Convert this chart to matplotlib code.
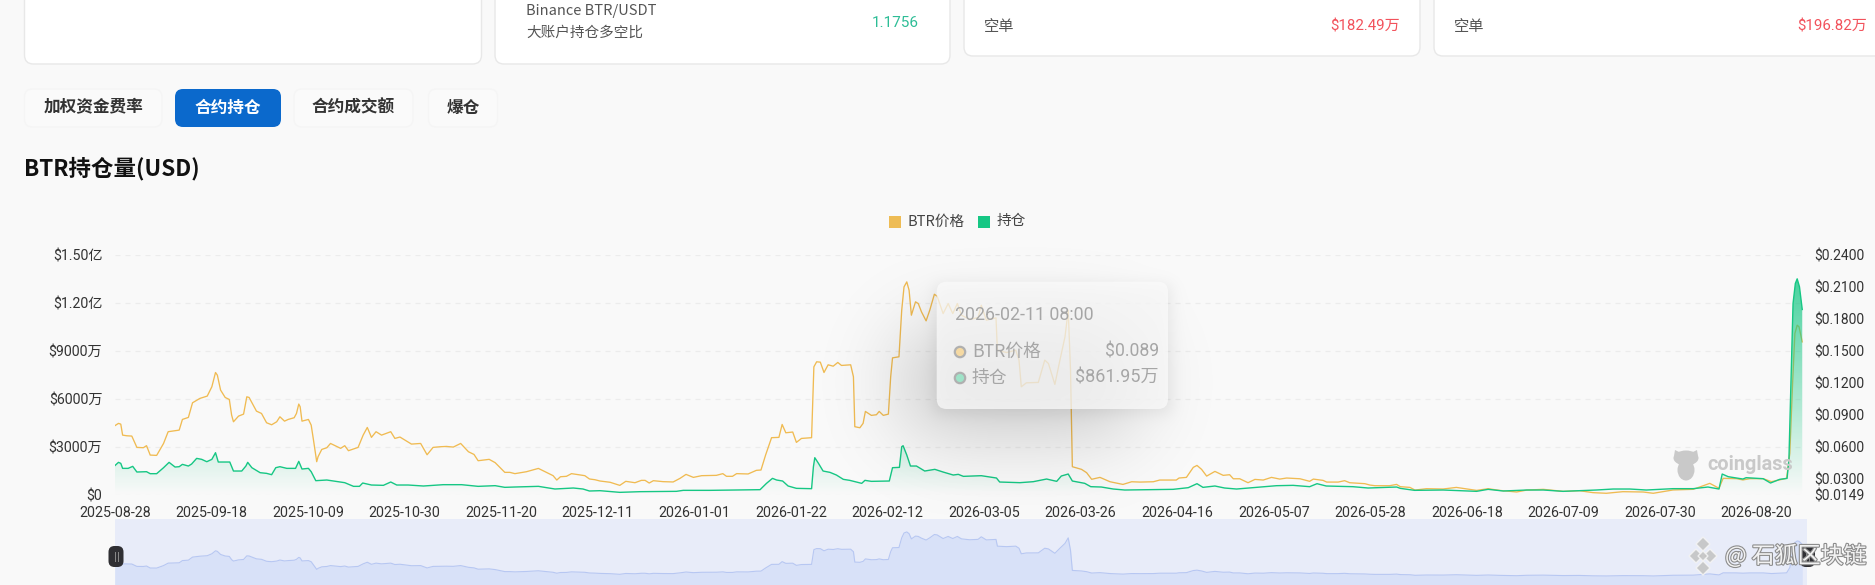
import math
import numpy as np
import matplotlib
matplotlib.use("Agg")
import matplotlib.pyplot as plt
import matplotlib.patheffects as pe
from matplotlib.patches import FancyBboxPatch, Rectangle, Ellipse, Polygon, Circle

# ---------------- data ----------------
price_days = [0,0.8,1.3,1.7,2.6,3.7,4.8,6.2,6.9,7.7,9.1,10.6,11.6,14.0,14.7,16.0,16.9,18.5,20.1,21.1,21.9,22.3,23.0,24.0,24.9,25.4,25.8,26.9,28.0,28.7,29.2,30.8,31.9,33.0,34.1,35.2,35.9,36.9,37.7,39.0,39.5,40.0,40.3,40.7,42.1,42.7,43.2,43.9,44.2,45.0,46.1,46.9,49.1,50.0,50.8,52.9,54.0,54.9,55.8,56.8,58.0,60.0,60.9,62.0,64.5,66.5,67.9,69.2,70.7,72.1,73.6,75.2,76.9,78.1,79.0,81.4,82.7,84.8,85.9,87.0,89.5,92.1,95.3,96.1,96.9,98.2,99.3,102.2,103.2,104.4,105.5,
    107.7,109.8,111.1,113.1,114.5,115.3,116.2,117.1,119.2,121.4,122.9,124.2,125.8,127.6,130.8,132.2,133.0,134.3,135.2,137.7,139.5,140.5,141.5,142.8,144.4,145.1,145.9,147.4,148.2,149.3,151.5,152.0,152.6,153.4,154.2,155.1,156.2,157.2,158.0,160.0,160.6,160.9,162.0,162.7,163.2,164.5,165.6,166.2,167.1,168.2,168.7,169.1,170.5,171.1,171.6,172.2,172.7,173.2,174.1,174.7,175.4,176.4,177.2,178.2,178.8,180.1,181.2,182.2,183.2,184.1,185.9,187.7,188.4,189.5,191.6,191.9,193.9,195.9,196.6,197.1,198.2,200.8,202.2,203.0,204.4,205.5,206.6,207.3,207.8,208.2,210.2,211.3,212.4,214.2,
    216.4,219.2,221.1,222.9,225.8,227.2,230.8,231.4,233.0,234.5,235.3,236.3,237.4,239.2,241.0,242.4,243.2,244.6,246.4,247.9,249.7,251.5,253.3,254.8,257.7,259.8,260.6,262.7,263.5,266.0,267.4,268.5,271.8,272.9,274.0,277.2,278.7,279.5,281.6,282.7,285.2,288.8,291.7,296.1,298.6,301.1,304.8,307.0,310.6,314.9,318.5,
    321.4,324.3,327.9,332.3,334.5,338.8,343.2,346.8,348.8,349.7,352.6,354.0,355.5,358.4,360.2,363.5,364.2,364.8,365.3,365.8,366.2,366.9]
price_usd = [.0800,.0822,.0815,.0712,.0706,.0703,.0597,.0594,.0613,.0525,.0522,.0634,.0744,.0759,.0859,.0878,.1015,.1056,.1078,.1165,.1299,.1274,.1134,.1065,.1046,.0900,.0837,.0890,.0909,.1071,.1065,.0937,.0915,.0828,.0809,.0837,.0884,.0843,.0859,.0875,.0915,.1003,.0978,.0843,.0859,.0806,.0666,.0463,.0510,.0578,.0594,.0634,.0588,.0613,.0566,.0597,.0712,.0784,.0691,.0744,.0712,.0744,.0681,.0694,.0628,.0634,.0528,.0597,.0603,.0606,.0600,.0634,.0556,.0531,.0472,.0485,.0454,.0363,.0363,.0351,.0369,.0400,.0332,.0291,.0322,.0326,.0351,.0332,.0301,.0294,.0282,
    .0270,.0241,.0279,.0266,.0288,.0288,.0263,.0285,.0276,.0273,.0307,.0344,.0316,.0332,.0335,.0351,.0326,.0326,.0351,.0348,.0382,.0385,.0525,.0688,.0691,.0812,.0734,.0741,.0644,.0681,.0688,.1352,.1399,.1396,.1299,.1371,.1358,.1393,.1365,.1371,.1259,.0791,.0781,.0822,.0934,.0897,.0903,.0934,.0897,.0909,.1259,.1436,.1446,.1883,.2101,.2148,.2070,.1836,.1961,.1945,.1867,.1783,.1883,.2032,.2014,.1851,.1945,.1851,.1945,.1836,.1795,.1814,.1929,.1789,.1811,.1508,.1486,.1508,.1415,.1165,.1202,.1206,.1415,.1383,.1187,.1415,.1633,.1883,.1321,.0416,.0391,.0360,.0298,.0316,
    .0275,.0250,.0275,.0272,.0275,.0291,.0291,.0310,.0316,.0410,.0428,.0391,.0328,.0372,.0335,.0341,.0303,.0303,.0266,.0297,.0291,.0316,.0300,.0310,.0303,.0279,.0300,.0288,.0272,.0272,.0285,.0266,.0257,.0244,.0238,.0238,.0250,.0229,.0222,.0197,.0210,.0207,.0222,.0194,.0210,.0194,.0179,.0197,.0204,.0185,.0191,
    .0173,.0167,.0182,.0179,.0167,.0198,.0204,.0260,.0214,.0307,.0304,.0292,.0304,.0304,.0276,.0307,.0541,.1196,.1664,.1742,.1727,.1586]

oi_days = [0,.8,1.3,1.7,2.9,3.9,4.8,6.9,7.7,9.1,10.6,11.8,13.1,14.0,14.7,16.0,16.7,17.8,18.9,20.0,21.1,21.9,22.5,25.0,25.8,27.6,28.5,28.9,29.8,31.6,33.0,34.1,35.0,35.9,37.4,39.3,40.0,40.7,42.1,42.7,43.7,46.1,50.0,51.9,53.2,53.9,55.8,58.4,60.0,61.3,63.8,67.1,71.4,75.4,79.0,82.7,84.8,87.0,92.1,95.7,99.7,101.8,103.2,105.5,
    109.8,114.2,122.1,123.6,129.4,140.3,141.7,143.0,143.9,145.2,146.4,148.2,151.5,151.9,152.2,153.0,154.0,155.5,156.9,158.4,159.8,162.4,163.1,164.5,168.4,169.1,170.6,171.1,171.4,172.2,173.0,174.3,176.1,178.3,180.1,182.3,183.4,184.5,188.4,191.7,192.4,196.8,199.7,202.6,204.8,205.8,207.3,208.2,
    210.9,212.2,214.5,217.1,219.6,225.8,230.1,233.4,235.3,236.6,239.2,241.3,243.9,248.2,252.6,256.2,259.8,261.4,263.4,269.2,272.5,278.7,279.5,282.6,288.8,296.1,298.6,301.9,307.0,310.6,314.9,318.5,
    322.1,325.8,329.4,333.0,338.8,343.2,346.4,348.8,349.5,350.8,354.0,354.7,358.4,360.0,362.0,363.6,364.0,364.5,364.9,365.4,365.8,366.3,366.9]
oi_wan = [1843,2051,1988,1676,1676,1801,1448,1468,1344,1344,1718,2051,1760,1780,1926,1822,1947,2300,2238,2092,2238,2654,2072,2072,1510,1510,1822,2051,1718,1406,1364,1281,1718,1780,1676,1676,2113,1635,1676,1468,907,948,782,553,553,761,636,616,824,636,636,574,657,657,553,595,491,512,553,387,449,387,262,282,
    178,220,241,303,303,345,740,1052,948,886,574,428,407,1780,2342,1988,1510,1426,1260,990,927,740,927,865,886,1718,1738,3028,3090,2508,1822,1822,1510,1614,1447,1260,1302,1177,1218,1073,823,782,844,1010,865,1198,1323,886,
    740,532,511,386,324,345,366,470,719,490,574,449,386,490,594,615,532,719,574,532,449,511,428,303,324,241,366,262,324,324,241,282,
    324,386,386,324,408,408,511,386,1322,1156,1010,1094,1031,761,990,1052,2196,7604,11972,13220,13511,13012,11598]

x_tick_labels = ["2025-08-28","2025-09-18","2025-10-09","2025-10-30","2025-11-20","2025-12-11","2026-01-01","2026-01-22","2026-02-12","2026-03-05","2026-03-26","2026-04-16","2026-05-07","2026-05-28","2026-06-18","2026-07-09","2026-07-30","2026-08-20"]
x_tick_days = [0,21,42,63,84,105,126,147,168,189,210,231,252,273,294,315,336,357]
left_ticks = [0,3000,6000,9000,12000,15000]
left_labels = ["$0","$3000万","$6000万","$9000万","$1.20亿","$1.50亿"]
right_ticks = [0.0149,0.03,0.06,0.09,0.12,0.15,0.18,0.21,0.24]
right_labels = ["$0.0149","$0.0300","$0.0600","$0.0900","$0.1200","$0.1500","$0.1800","$0.2100","$0.2400"]
series_names = ["BTR价格","持仓"]
tab_names = ["加权资金费率","合约持仓","合约成交额","爆仓"]

# ---------------- style ----------------
W, H = 1875, 585
BG = "#f9f9f9"; ORANGE = "#f0bb52"; GREEN = "#16c784"
NUM = ["Roboto", "Noto Sans CJK SC"]
CJK = ["Noto Sans CJK SC", "DejaVu Sans"]
plt.rcParams["font.family"] = CJK

fig = plt.figure(figsize=(W/100, H/100), dpi=100, facecolor=BG)

def rect_axes(x0, y0, x1, y1, **kw):
    return fig.add_axes([x0/W, 1-y1/H, (x1-x0)/W, (y1-y0)/H], **kw)

bg = fig.add_axes([0, 0, 1, 1], zorder=0)
bg.set_xlim(0, W); bg.set_ylim(H, 0); bg.axis("off")

def rbox(ax, x0, y0, x1, y1, r, fc, ec="none", lw=1, alpha=None, z=1):
    p = FancyBboxPatch((x0+r, y0+r), x1-x0-2*r, y1-y0-2*r, boxstyle=f"round,pad={r},rounding_size={r}",
                       fc=fc, ec=ec, lw=lw, alpha=alpha, zorder=z)
    ax.add_patch(p)
    return p

for c in [(24.5, -30, 481.5, 64), (495, -30, 950, 64), (964, -30, 1420, 56), (1434, -30, 1895, 56)]:
    rbox(bg, *c, 9, "white", "#e8e8e8", 1)

bg.text(526, 11, "Binance BTR/USDT", family=CJK, fontsize=10.5, color="#555555", va="center")
bg.text(526, 33, "大账户持仓多空比", family=CJK, fontsize=10.5, color="#555555", va="center")
bg.text(918.5, 23, "1.1756", family=NUM, fontsize=11, color="#2dbd96", va="center", ha="right")
bg.text(984, 26, "空单", family=CJK, fontsize=11, color="#555555", va="center")
bg.text(1400, 26, "$182.49万", family=NUM, fontsize=10.8, color="#f2525c", va="center", ha="right")
bg.text(1453.5, 26, "空单", family=CJK, fontsize=11, color="#555555", va="center")
bg.text(1867, 26, "$196.82万", family=NUM, fontsize=10.8, color="#f2525c", va="center", ha="right")

tab_boxes = [(24.5, 162), (175, 281), (294, 413), (428.5, 497.5)]
for i, (name, (a, b)) in enumerate(zip(tab_names, tab_boxes)):
    active = i == 1
    rbox(bg, a, 89, b, 127, 8, "#0b69cc" if active else "#fafafa", "none" if active else "#f5f5f5", 1)
    bg.text((a+b)/2, 107.5, name, family=CJK, fontsize=12, weight="bold",
            color="white" if active else "#333333", ha="center", va="center")

bg.text(24.5, 169, "BTR持仓量(USD)", family=CJK, fontsize=16.2, weight="bold", color="#111111", va="center")

bg.add_patch(Rectangle((889, 216), 12, 12, fc="#eebc55", ec="none"))
bg.text(907.5, 221.5, series_names[0], family=CJK, fontsize=10.5, color="#444444", va="center")
bg.add_patch(Rectangle((978, 216), 12, 12, fc=GREEN, ec="none"))
bg.text(996.5, 221.5, series_names[1], family=CJK, fontsize=10.5, color="#444444", va="center")

# ---------------- main chart ----------------
PX0, PX1, PY0, PY1 = 114.8, 1805, 255, 495.2
XLIM = (0, 367.5)
ax = rect_axes(PX0, PY0, PX1, PY1, zorder=1)
ax.patch.set_alpha(0)
ax.set_xlim(*XLIM); ax.set_ylim(0, 15000)
for s in ax.spines.values():
    s.set_visible(False)
ax.set_yticks(left_ticks); ax.set_yticklabels(left_labels, family=NUM, fontsize=10.2, color="#333333")
ax.tick_params(axis="y", length=0, pad=9)
ax.set_xticks(x_tick_days); ax.set_xticklabels(x_tick_labels, family=NUM, fontsize=10.3, color="#333333")
ax.tick_params(axis="x", length=0, pad=7.5)
ax.grid(axis="y", color="#ececec", lw=0.9, ls=(0, (4, 4)))
ax.set_axisbelow(True)

axr = ax.twinx()
axr.patch.set_alpha(0)
axr.set_xlim(*XLIM); axr.set_ylim(0.0149, 0.24)
for s in axr.spines.values():
    s.set_visible(False)
axr.set_yticks(right_ticks); axr.set_yticklabels(right_labels, family=NUM, fontsize=10, color="#333333")
axr.tick_params(axis="y", length=0, pad=7)

axr.plot(price_days, price_usd, color=ORANGE, lw=0.95, zorder=3, solid_joinstyle="round")

axg = ax.figure.add_axes(ax.get_position(), zorder=2, sharex=ax)
axg.patch.set_alpha(0); axg.axis("off"); axg.set_ylim(0, 15000); axg.set_xlim(*XLIM)
poly = axg.fill_between(oi_days, oi_wan, 0, fc="none", ec="none")
grad = np.zeros((256, 2, 4))
grad[..., :3] = matplotlib.colors.to_rgb(GREEN)
grad[..., 3] = np.linspace(0.78, 0, 256)[:, None]
im = axg.imshow(grad, extent=(XLIM[0], XLIM[1], 0, 13511), origin="upper", aspect="auto", zorder=2,
                interpolation="bilinear")
im.set_clip_path(poly.get_paths()[0], transform=axg.transData)
axg.set_xlim(*XLIM); axg.set_ylim(0, 15000)
axg.plot(oi_days, oi_wan, color=GREEN, lw=1.0, zorder=4, solid_joinstyle="round")

# ---------------- slider ----------------
sl = rect_axes(PX0, 519, 1807, 585, zorder=1)
sl.set_facecolor("#e8ecf9")
for s in sl.spines.values():
    s.set_visible(False)
sl.set_xticks([]); sl.set_yticks([])
sl.set_xlim(0, 367.5*(1807-PX0)/(PX1-PX0)); sl.set_ylim(-0.024, 0.273)
sl.fill_between(price_days, price_usd, -0.024, color="#d8e1f8", lw=0)
sl.plot(price_days, price_usd, color="#b7c7f2", lw=0.8)

# ---------------- overlay ----------------
ov = fig.add_axes([0, 0, 1, 1], zorder=5)
ov.patch.set_alpha(0); ov.axis("off")

def blurred(a, b, sigma, grid):
    erf = np.vectorize(math.erf)
    return 0.5*(erf((grid-a)/(sigma*2**.5)) - erf((grid-b)/(sigma*2**.5)))

gx = np.arange(700, 1320.0); gy = np.arange(170, 585.0)
shadow = (0.22*np.outer(blurred(335, 430, 42, gy), blurred(905, 1130, 42, gx))
          + 0.06*np.outer(blurred(284, 414, 7, gy), blurred(934, 1172, 7, gx)))
rgba = np.zeros(shadow.shape + (4,))
rgba[..., 3] = shadow
ov.imshow(rgba, extent=(gx[0], gx[-1], gy[-1], gy[0]), aspect="auto", zorder=1, interpolation="bilinear")
ov.set_xlim(0, W); ov.set_ylim(H, 0)

rbox(ov, 936.7, 281.7, 1168, 409, 10, "#fbfbfb", alpha=0.74, z=2)
TXT = "#a6a6a6"
ov.text(955, 315, "2026-02-11 08:00", family=NUM, fontsize=12.8, color=TXT, va="center", zorder=3)
for yy, name, val, fc, fs in [(352, series_names[0], "$0.089", "#f5d9a2", 12.7), (378, series_names[1], "$861.95万", "#9fe3c8", 13)]:
    ov.add_patch(Circle((960, yy), 5.2, fc=fc, ec="#b0b0b0", lw=1.6, zorder=3))
    ov.text(972, yy, name, family=CJK, fontsize=12.8, color=TXT, va="center", zorder=3)
    ov.text(1159, yy, val, family=NUM, fontsize=fs, color=TXT, va="center", ha="right", zorder=3)

WM = "#c9c9c9"
ov.add_patch(Ellipse((1686, 458), 25, 15, fc=WM, ec="none", zorder=3))
ov.add_patch(Ellipse((1686, 470), 17, 21, fc=WM, ec="none", zorder=3))
ov.add_patch(Polygon([(1674, 456), (1675, 450), (1681, 453)], fc=WM, ec="none", zorder=3))
ov.add_patch(Polygon([(1698, 456), (1697, 450), (1691, 453)], fc=WM, ec="none", zorder=3))
ov.text(1707, 465, "coinglass", family=["Roboto"], weight="bold", fontsize=14.3, color=WM, va="center", zorder=3)

for cx in (116, 1807.5):
    rbox(ov, cx-7.5, 546, cx+7.5, 567, 6, "#2f2f33", z=3)
    for dx in (-1.5, 1.5):
        ov.plot([cx+dx, cx+dx], [552, 561], color="#8a8a8a", lw=0.7, zorder=4)

for (dx, dy, s) in [(1703, 544, 7), (1696, 556, 7), (1710, 556, 7), (1703, 568, 7), (1703, 556, 5)]:
    ov.add_patch(Polygon([(dx, dy-s), (dx+s, dy), (dx, dy+s), (dx-s, dy)], fc="#c4c4c4", ec="#f4f4f4", lw=1, alpha=0.9, zorder=4))
t = ov.text(1725, 556, "@ 石狐区块链", family=CJK, fontsize=16.5, color="#f2f2f2", va="center", zorder=5)
t.set_path_effects([pe.withStroke(linewidth=1.6, foreground="#8c8c8c")])
ov.set_xlim(0, W); ov.set_ylim(H, 0)

fig.savefig("out.png", dpi=100, facecolor=BG)
